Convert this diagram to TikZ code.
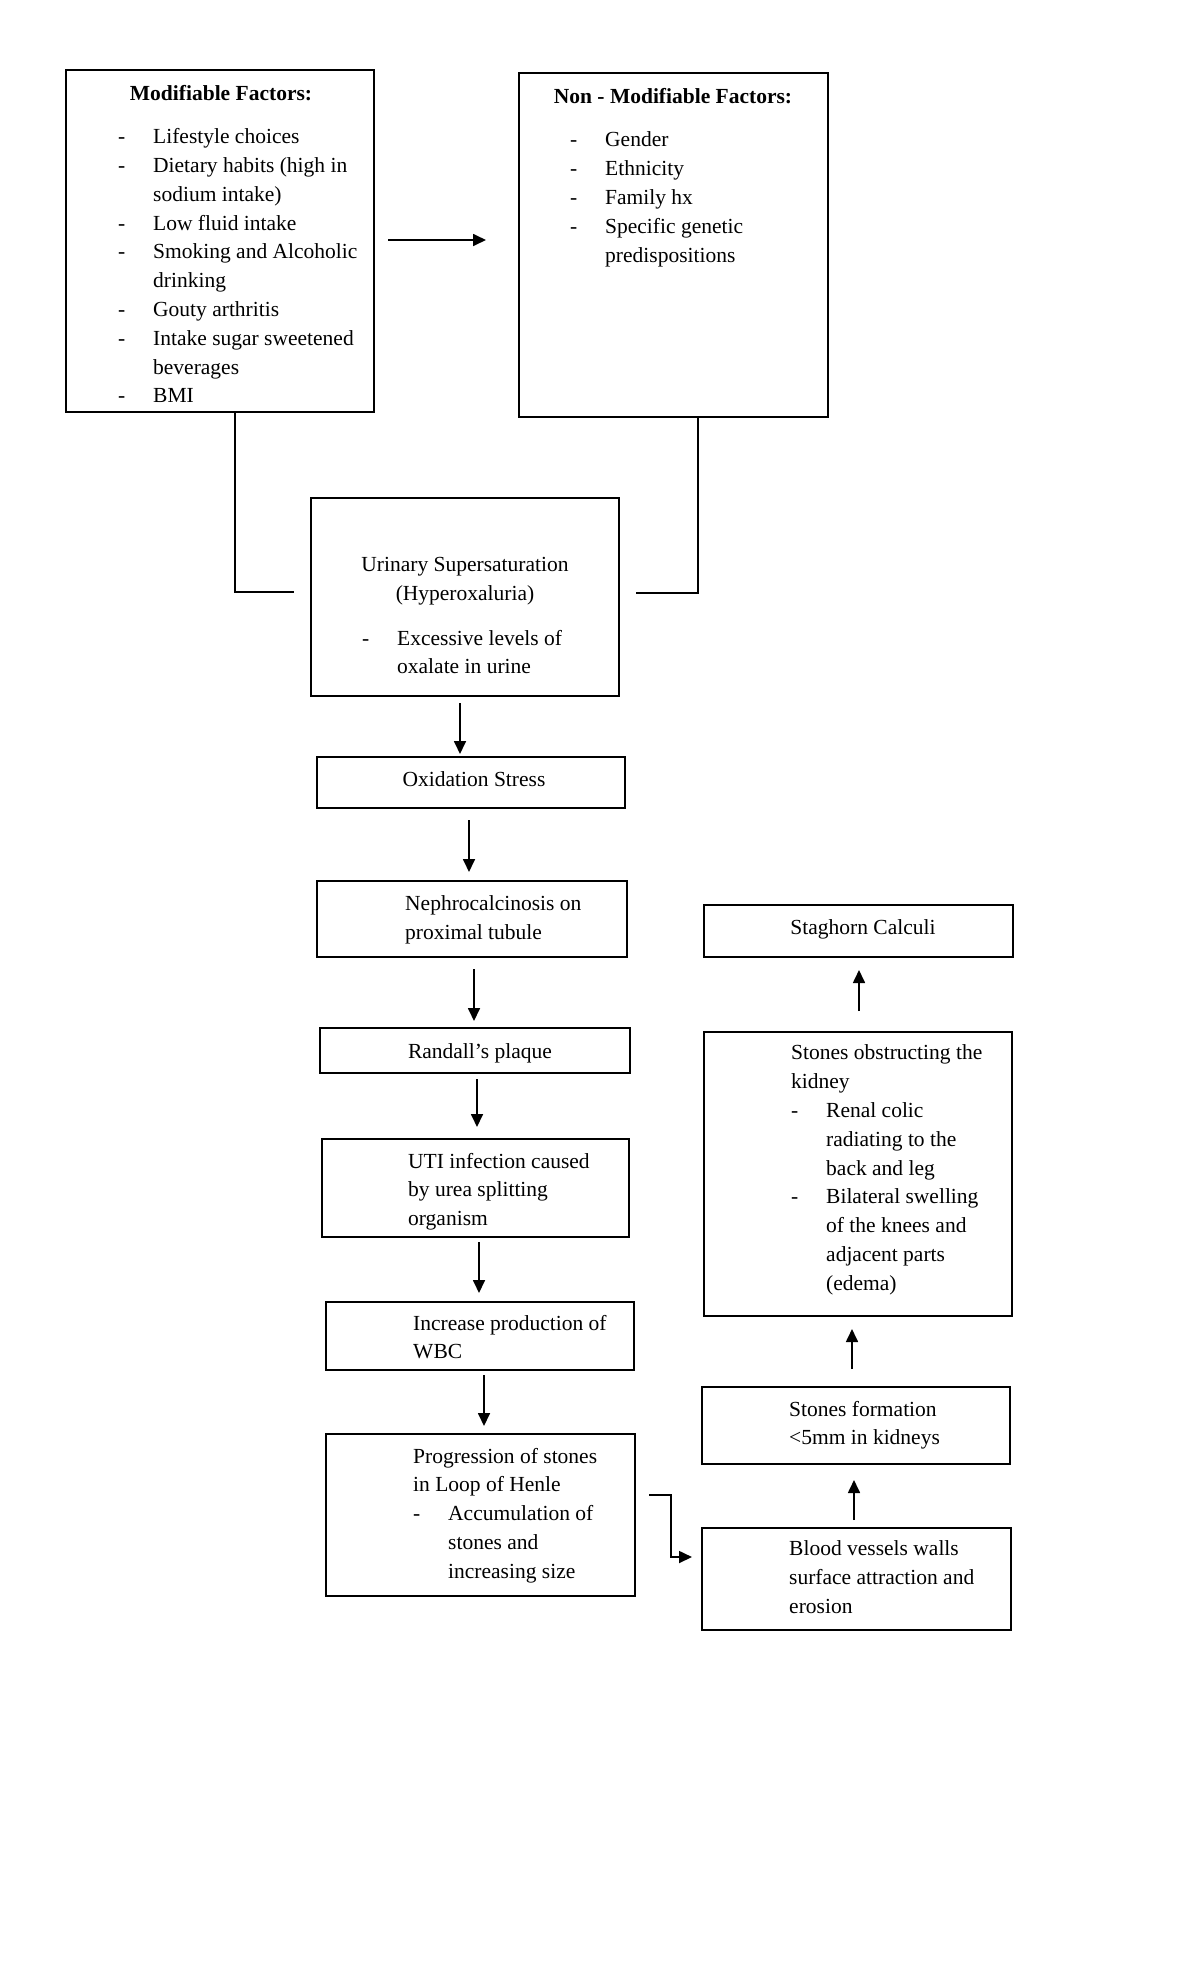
\documentclass[tikz,border=0pt]{standalone}
\usepackage{fontspec}
\setmainfont{Liberation Serif}
\usepackage{tikz}
\usetikzlibrary{arrows.meta,positioning,calc}
\newcommand{\dashitem}[1]{\makebox[35pt][l]{-}#1}
\newcommand{\dashcont}[1]{\hspace*{35pt}#1}
\begin{document}
\begin{tikzpicture}[x=1pt, y=-1pt, box/.style={draw, line width=2pt, inner sep=0pt}, txt/.style={align=left, inner sep=0pt, anchor=north west, yshift=16.2pt, execute at begin node=\strut, font=\fontsize{21.5pt}{28.8pt}\selectfont}, line/.style={inner sep=0pt, anchor=base, font=\fontsize{21.5pt}{28.8pt}\selectfont}, flow/.style={-{Triangle[length=13pt,width=12pt]}, line width=1.7pt}, link/.style={-, line width=1.7pt}]
\useasboundingbox (0,0) rectangle (1200,1976);
\node[box, minimum width=308pt, minimum height=342pt] (mod) at (220,241) {};
\node[box, minimum width=309pt, minimum height=344pt] (nonmod) at (673.5,245) {};
\node[box, minimum width=308pt, minimum height=198pt] (urinary) at (465,597) {};
\node[box, minimum width=308pt, minimum height=51pt] (oxid) at (471,782.5) {};
\node[box, minimum width=310pt, minimum height=76pt] (nephro) at (472,919) {};
\node[box, minimum width=310pt, minimum height=45pt] (randall) at (475,1050.5) {};
\node[box, minimum width=307pt, minimum height=98pt] (uti) at (475.5,1188) {};
\node[box, minimum width=308pt, minimum height=68pt] (wbc) at (480,1336) {};
\node[box, minimum width=309pt, minimum height=162pt] (henle) at (480.5,1515) {};
\node[box, minimum width=309pt, minimum height=52pt] (staghorn) at (858.5,931) {};
\node[box, minimum width=308pt, minimum height=284pt] (obstruct) at (858,1174) {};
\node[box, minimum width=308pt, minimum height=77pt] (formation) at (856,1425.5) {};
\node[box, minimum width=309pt, minimum height=102pt] (vessels) at (856.5,1579) {};

\node[line, font=\fontsize{21.5pt}{28.8pt}\selectfont\bfseries] (modH) at (221,100) {Modifiable Factors:};
\node[txt] (modT) at (118,144.5) {\dashitem{Lifestyle choices}\\\dashitem{Dietary habits (high in}\\\dashcont{sodium intake)}\\\dashitem{Low fluid intake}\\\dashitem{Smoking and Alcoholic}\\\dashcont{drinking}\\\dashitem{Gouty arthritis}\\\dashitem{Intake sugar sweetened}\\\dashcont{beverages}\\\dashitem{BMI}};
\node[line, font=\fontsize{21.5pt}{28.8pt}\selectfont\bfseries] (nonmodH) at (673,103) {Non - Modifiable Factors:};
\node[txt] (nonmodT) at (570,148) {\dashitem{Gender}\\\dashitem{Ethnicity}\\\dashitem{Family hx}\\\dashitem{Specific genetic}\\\dashcont{predispositions}};
\node[txt, anchor=north, align=center] (urinaryT) at (465,573) {Urinary Supersaturation\\(Hyperoxaluria)};
\node[txt] (urinaryB) at (362,646) {\dashitem{Excessive levels of}\\\dashcont{oxalate in urine}};
\node[line] (oxidT) at (474,786) {Oxidation Stress};
\node[txt] (nephroT) at (405,912) {Nephrocalcinosis on\\proximal tubule};
\node[line] (randallT) at (480,1058) {Randall’s plaque};
\node[txt] (utiT) at (408,1169) {UTI infection caused\\by urea splitting\\organism};
\node[txt] (wbcT) at (413,1331) {Increase production of\\WBC};
\node[txt] (henleT) at (413,1464) {Progression of stones\\in Loop of Henle\\\dashitem{Accumulation of}\\\dashcont{stones and}\\\dashcont{increasing size}};
\node[line] (staghornT) at (863,934) {Staghorn Calculi};
\node[txt] (obstructT) at (791,1061) {Stones obstructing the\\kidney\\\dashitem{Renal colic}\\\dashcont{radiating to the}\\\dashcont{back and leg}\\\dashitem{Bilateral swelling}\\\dashcont{of the knees and}\\\dashcont{adjacent parts}\\\dashcont{(edema)}};
\node[txt] (formationT) at (789,1417) {Stones formation\\<5mm in kidneys};
\node[txt] (vesselsT) at (789,1557) {Blood vessels walls\\surface attraction and\\erosion};

\draw[flow, shorten <=13pt, shorten >=32pt] ([yshift=1pt]mod.east) -- ([yshift=1pt]mod.east -| nonmod.west);
\draw[link, shorten >=16pt] ([xshift=15pt]mod.south) |- ([yshift=5pt]urinary.west);
\draw[link, shorten >=16pt] ([xshift=24.5pt]nonmod.south) |- ([yshift=4pt]urinary.east);
\draw[flow, shorten <=6pt, shorten >=2pt] ([xshift=-5pt]urinary.south) -- ([xshift=-5pt]urinary.south |- oxid.north);
\draw[flow, shorten <=11pt, shorten >=8pt] ([xshift=-2pt]oxid.south) -- ([xshift=-2pt]oxid.south |- nephro.north);
\draw[flow, shorten <=11pt, shorten >=6pt] ([xshift=2pt]nephro.south) -- ([xshift=2pt]nephro.south |- randall.north);
\draw[flow, shorten <=5pt, shorten >=11pt] ([xshift=2pt]randall.south) -- ([xshift=2pt]randall.south |- uti.north);
\draw[flow, shorten <=4pt, shorten >=8pt] ([xshift=3.5pt]uti.south) -- ([xshift=3.5pt]uti.south |- wbc.north);
\draw[flow, shorten <=4pt, shorten >=7pt] ([xshift=4pt]wbc.south) -- ([xshift=4pt]wbc.south |- henle.north);
\draw[flow, shorten <=13pt, shorten >=9pt] ([yshift=20pt]henle.east) -- ++(35,0) |- ([yshift=22pt]vessels.west);
\draw[flow, shorten <=7pt, shorten >=15pt] ([xshift=-2.5pt]vessels.north) -- ([xshift=-2.5pt]vessels.north |- formation.south);
\draw[flow, shorten <=17pt, shorten >=12pt] ([xshift=-4pt]formation.north) -- ([xshift=-4pt]formation.north |- obstruct.south);
\draw[flow, shorten <=20pt, shorten >=12pt] ([xshift=1pt]obstruct.north) -- ([xshift=1pt]obstruct.north |- staghorn.south);
\end{tikzpicture}
\end{document}
